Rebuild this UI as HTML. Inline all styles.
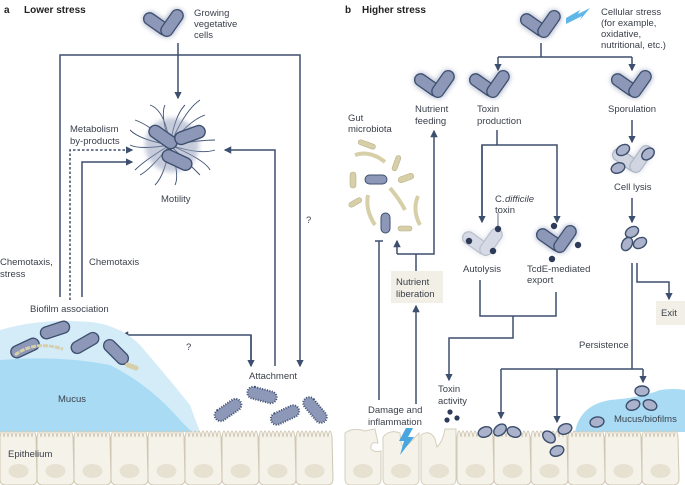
<!DOCTYPE html>
<html><head><meta charset="utf-8"><style>
html,body{margin:0;padding:0;background:#fff}
svg{display:block}
text{font-family:"Liberation Sans",sans-serif;font-size:9.5px;fill:#3a3f4a}
.b{font-weight:bold;font-size:10px;fill:#222}
</style></head><body>
<svg width="685" height="485" viewBox="0 0 685 485" xmlns="http://www.w3.org/2000/svg">
<defs>
<marker id="ar" viewBox="0 0 6 6" refX="5" refY="3" markerWidth="5" markerHeight="5" orient="auto"><path d="M0,0 L6,3 L0,6z" fill="#3d4f6e"/></marker>
<filter id="gl" x="-50%" y="-50%" width="200%" height="200%"><feGaussianBlur stdDeviation="2.5"/></filter>
<g id="rod"><rect x="-15" y="-6" width="30" height="12" rx="6" fill="#8d98b8" stroke="#3d4f6e" stroke-width="1.3"/></g>
<g id="pair">
<g filter="url(#gl)" opacity="0.6"><rect x="-16" y="-8" width="32" height="16" rx="8" fill="#8d98b8" transform="translate(-8,0) rotate(35)"/><rect x="-16" y="-8" width="32" height="16" rx="8" fill="#8d98b8" transform="translate(7,-1) rotate(-55)"/></g>
<use href="#rod" transform="translate(-8,0) rotate(35)"/><use href="#rod" transform="translate(7,-1) rotate(-55)"/>
</g>
<g id="cell">
<path d="M0,8 q2,-12 4,0 q2,-12 4,0 q2,-12 4,0 q2,-12 4,0 q2,-12 4,0 q2,-12 4,0 q2,-12 4,0 q2,-12 4,0 q2,-12 4,0 L37,50 q0,6 -6,6 L6,56 q-6,0 -6,-6z" fill="#f5f2ea" stroke="#cfc7b2" stroke-width="1"/>
<ellipse cx="18.5" cy="42" rx="10" ry="7" fill="#e6e1d0"/>
</g>
<g id="spore"><ellipse rx="7" ry="5" fill="#aab3cb" stroke="#3d4f6e" stroke-width="1.4"/></g>
</defs>

<text x="4" y="13" class="b">a</text><text x="24" y="13" class="b">Lower stress</text>
<use href="#pair" transform="translate(165,24)"/>
<text x="194" y="16">Growing</text><text x="194" y="27">vegetative</text><text x="194" y="38">cells</text>

<g stroke="#3d4f6e" stroke-width="1.5" fill="none">
<line x1="178" y1="43" x2="178" y2="98" marker-end="url(#ar)"/>
<polyline points="60,297 60,55 300,55 300,366" marker-end="url(#ar)"/>
<polyline points="82,297 82,162 132,162" marker-end="url(#ar)"/>
<polyline points="275,366 275,150 225,150" marker-end="url(#ar)"/>
<polyline points="251,366 251,335 122,335" marker-end="url(#ar)"/>
<line x1="251" y1="335" x2="251" y2="366" marker-end="url(#ar)"/>
<polyline points="70,300 70,150 132,150" stroke-dasharray="2.5,2" marker-end="url(#ar)"/>
</g>

<g stroke="#3d4f6e" stroke-width="0.9" fill="none">
<path d="M170,145 q-20,-20 -35,-25 M170,145 q-10,-30 -5,-40 M170,145 q5,-30 15,-40 M170,145 q20,-25 35,-30 M170,145 q30,-5 45,-5 M170,145 q30,10 45,5 M170,145 q25,25 30,30 M170,145 q10,30 5,40 M170,145 q-5,30 -15,40 M170,145 q-20,25 -30,30 M170,145 q-30,5 -40,0 M170,145 q-30,-5 -40,-15 M170,145 q-5,-35 -20,-40 M170,145 q15,-35 30,-45 M170,145 q35,15 40,25 M170,145 q-25,15 -35,25"/>
</g>
<g filter="url(#gl)" opacity="0.5"><circle cx="172" cy="145" r="27" fill="#8d98b8"/></g>
<use href="#rod" transform="translate(163,137) rotate(35) scale(1.05)"/>
<use href="#rod" transform="translate(190,135) rotate(-20) scale(1.05)"/>
<use href="#rod" transform="translate(177,160) rotate(25) scale(1.05)"/>
<text x="161" y="202">Motility</text>
<text x="70" y="132">Metabolism</text><text x="70" y="144">by-products</text>
<text x="0" y="265">Chemotaxis,</text><text x="0" y="277">stress</text>
<text x="89" y="265">Chemotaxis</text>
<text x="306" y="223">?</text>
<text x="186" y="350">?</text>
<text x="30" y="312">Biofilm association</text>
<text x="249" y="379">Attachment</text>

<path d="M0,330 Q40,318 90,322 Q120,325 140,345 Q170,380 190,405 L200,432 L0,432z" fill="#d4ecf8"/>
<path d="M0,360 Q60,355 110,365 Q150,385 180,420 L192,432 L0,432z" fill="#a9dcf4"/>
<text x="58" y="402">Mucus</text>
<use href="#rod" transform="translate(55,330) rotate(-18)"/>
<use href="#rod" transform="translate(25,348) rotate(-25)"/>
<use href="#rod" transform="translate(85,343) rotate(-30)"/>
<use href="#rod" transform="translate(116,352) rotate(45)"/>
<path d="M15,355 Q35,340 63,349" stroke="#d6cfa8" stroke-width="3" fill="none" stroke-dasharray="5,1"/>
<rect x="125" y="364" width="14" height="5" rx="2.5" fill="#d6cfa8" transform="rotate(20 132 366)"/>

<g stroke="#3d4f6e" stroke-width="2" stroke-dasharray="1,1.5">
<rect x="-15" y="-6" width="30" height="12" rx="6" fill="#8d98b8" transform="translate(228,410) rotate(-35)"/>
<rect x="-15" y="-6" width="30" height="12" rx="6" fill="#8d98b8" transform="translate(262,395) rotate(15)"/>
<rect x="-15" y="-6" width="30" height="12" rx="6" fill="#8d98b8" transform="translate(285,415) rotate(-25)"/>
<rect x="-15" y="-6" width="30" height="12" rx="6" fill="#8d98b8" transform="translate(315,410) rotate(50)"/>
</g>

<g transform="translate(0,429)">
<use href="#cell" x="0"/><use href="#cell" x="37"/><use href="#cell" x="74"/><use href="#cell" x="111"/><use href="#cell" x="148"/><use href="#cell" x="185"/><use href="#cell" x="222"/><use href="#cell" x="259"/><use href="#cell" x="296"/>
</g>
<text x="8" y="457">Epithelium</text>

<text x="345" y="13" class="b">b</text><text x="362" y="13" class="b">Higher stress</text>
<use href="#pair" transform="translate(542,25)"/>
<path d="M566,18 L580,10 L578,14 L590,8 L580,20 L582,16 L566,24z" fill="#5fb6e8"/>
<text x="601" y="15">Cellular stress</text><text x="601" y="26">(for example,</text><text x="601" y="37">oxidative,</text><text x="601" y="48">nutritional, etc.)</text>

<use href="#pair" transform="translate(436,85)"/>
<use href="#pair" transform="translate(491,85)"/>
<use href="#pair" transform="translate(633,85)"/>
<text x="415" y="112">Nutrient</text><text x="415" y="124">feeding</text>
<text x="477" y="112">Toxin</text><text x="477" y="124">production</text>
<text x="608" y="112">Sporulation</text>
<text x="348" y="121">Gut</text><text x="348" y="132">microbiota</text>

<g stroke="#3d4f6e" stroke-width="1.5" fill="none">
<line x1="541" y1="43" x2="541" y2="57"/>
<line x1="498" y1="57" x2="632" y2="57"/>
<line x1="498" y1="57" x2="498" y2="70" marker-end="url(#ar)"/>
<line x1="632" y1="57" x2="632" y2="70" marker-end="url(#ar)"/>
<polyline points="397,254 434,254 434,131" marker-end="url(#ar)"/>
<line x1="397" y1="254" x2="397" y2="241" marker-end="url(#ar)"/>
<line x1="416" y1="254" x2="416" y2="271"/>
<line x1="379" y1="400" x2="379" y2="241"/>
<line x1="375" y1="241" x2="383" y2="241"/>
<line x1="416" y1="404" x2="416" y2="306" marker-end="url(#ar)"/>
<line x1="497" y1="130" x2="497" y2="145"/>
<polyline points="482,222 482,145 557,145 557,222" marker-end="url(#ar)"/>
<line x1="482" y1="145" x2="482" y2="222" marker-end="url(#ar)"/>
<polyline points="480,280 480,316 556,316 556,292"/>
<polyline points="513,316 513,338 449,338 449,380" marker-end="url(#ar)"/>
<line x1="632" y1="120" x2="632" y2="142" marker-end="url(#ar)"/>
<line x1="632" y1="198" x2="632" y2="222" marker-end="url(#ar)"/>
<line x1="632" y1="263" x2="632" y2="369"/>
<polyline points="637,263 637,282 669,282 669,299" marker-end="url(#ar)"/>
<line x1="501" y1="369" x2="643" y2="369"/>
<line x1="501" y1="369" x2="501" y2="418" marker-end="url(#ar)"/>
<line x1="557" y1="369" x2="557" y2="422" marker-end="url(#ar)"/>
<line x1="643" y1="369" x2="643" y2="382" marker-end="url(#ar)"/>
<line x1="498" y1="213" x2="498" y2="226" stroke-width="0.8"/>
</g>

<g fill="#d6cfa8" stroke="#b8b08a" stroke-width="0.6">
<rect x="358" y="142" width="18" height="5" rx="2.5" transform="rotate(20 367 144)"/>
<path d="M355,155 Q370,150 385,162" stroke="#d6cfa8" stroke-width="4" fill="none"/>
<rect x="394" y="155" width="5" height="16" rx="2.5" transform="rotate(20 396 163)"/>
<rect x="350" y="172" width="6" height="16" rx="3"/>
<rect x="398" y="175" width="16" height="6" rx="3" transform="rotate(-20 406 178)"/>
<path d="M368,195 Q365,210 375,225" stroke="#d6cfa8" stroke-width="4" fill="none"/>
<path d="M390,188 Q400,200 405,210" stroke="#d6cfa8" stroke-width="4" fill="none"/>
<path d="M418,196 Q412,210 420,225" stroke="#d6cfa8" stroke-width="4" fill="none"/>
<rect x="348" y="200" width="14" height="5" rx="2.5" transform="rotate(-30 355 202)"/>
<rect x="398" y="226" width="14" height="5" rx="2.5"/>
</g>
<rect x="365" y="175" width="22" height="9" rx="4.5" fill="#8d98b8" stroke="#3d4f6e"/>
<rect x="381" y="213" width="9" height="20" rx="4.5" fill="#8d98b8" stroke="#3d4f6e"/>

<rect x="391" y="271" width="52" height="32" fill="#f2efe6"/>
<text x="396" y="285">Nutrient</text><text x="396" y="297">liberation</text>
<text x="368" y="413">Damage and</text><text x="368" y="425">inflammation</text>

<text x="495" y="202">C. </text><text x="505" y="202" font-style="italic">difficile</text><text x="495" y="213">toxin</text>
<g opacity="0.35"><use href="#pair" transform="translate(484,243)"/></g>
<circle cx="498" cy="229" r="3.2" fill="#2d3b58"/><circle cx="469" cy="241" r="3.2" fill="#2d3b58"/><circle cx="493" cy="251" r="3.2" fill="#2d3b58"/>
<use href="#pair" transform="translate(558,240)"/>
<circle cx="554" cy="226" r="3.2" fill="#2d3b58"/><circle cx="578" cy="245" r="3.2" fill="#2d3b58"/><circle cx="552" cy="259" r="3.2" fill="#2d3b58"/>
<text x="463" y="272">Autolysis</text>
<text x="527" y="272">TcdE-mediated</text><text x="527" y="283">export</text>
<text x="438" y="392">Toxin</text><text x="438" y="404">activity</text>
<circle cx="450" cy="412" r="2.6" fill="#2d3b58"/><circle cx="447" cy="420" r="2.6" fill="#2d3b58"/><circle cx="457" cy="418" r="2.6" fill="#2d3b58"/>

<g opacity="0.4"><use href="#pair" transform="translate(634,160)"/></g>
<use href="#spore" transform="translate(623,150) rotate(-30)"/><use href="#spore" transform="translate(648,154) rotate(-40)"/><use href="#spore" transform="translate(618,168) rotate(-20)"/>
<text x="614" y="190">Cell lysis</text>
<use href="#spore" transform="translate(632,232) rotate(-30)"/><use href="#spore" transform="translate(627,244) rotate(-60)"/><use href="#spore" transform="translate(640,243) rotate(-30)"/>
<rect x="656" y="301" width="29" height="24" fill="#f2efe6"/><text x="661" y="316">Exit</text>
<text x="579" y="348">Persistence</text>

<path d="M575,432 Q580,405 610,400 Q640,398 660,390 Q675,388 685,390 L685,432z" fill="#a9dcf4"/>

<g transform="translate(345,429)">
<path d="M0,4 Q8,-2 20,2 L30,0 L33,14 Q25,12 26,20 Q30,24 36,22 L36,50 q0,6 -6,6 L6,56 q-6,0 -6,-6z" fill="#f5f2ea" stroke="#d6cfbd"/>
<ellipse cx="18" cy="42" rx="10" ry="7" fill="#e6e1d0"/>
<path d="M38,8 Q45,0 55,4 Q56,20 60,18 Q65,14 74,4 L74,50 q0,6 -6,6 L44,56 q-6,0 -6,-6z" fill="#f5f2ea" stroke="#d6cfbd"/>
<ellipse cx="56" cy="42" rx="10" ry="7" fill="#e6e1d0"/>
<path d="M76,6 Q85,0 90,10 L92,18 Q98,12 100,0 L111,0 L111,50 q0,6 -6,6 L82,56 q-6,0 -6,-6z" fill="#f5f2ea" stroke="#d6cfbd"/>
<ellipse cx="94" cy="42" rx="10" ry="7" fill="#e6e1d0"/>
<use href="#cell" x="112"/><use href="#cell" x="149"/><use href="#cell" x="186"/><use href="#cell" x="223"/><use href="#cell" x="260"/><use href="#cell" x="297"/>
</g>
<path d="M406,428 L413,428 L408,437 L414,437 L400,455 L404,441 L399,441z" fill="#4aa6e0"/>
<text x="614" y="422">Mucus/biofilms</text>
<use href="#spore" transform="translate(642,391)"/><use href="#spore" transform="translate(633,405) rotate(-20)"/><use href="#spore" transform="translate(650,405) rotate(20)"/><use href="#spore" transform="translate(597,422) rotate(-10)"/>
<use href="#spore" transform="translate(485,432) rotate(-20)"/><use href="#spore" transform="translate(500,430) rotate(-40)"/><use href="#spore" transform="translate(514,432) rotate(20)"/>
<use href="#spore" transform="translate(549,437) rotate(40)"/><use href="#spore" transform="translate(565,429) rotate(-20)"/><use href="#spore" transform="translate(557,451) rotate(-20)"/>
</svg>
</body></html>
